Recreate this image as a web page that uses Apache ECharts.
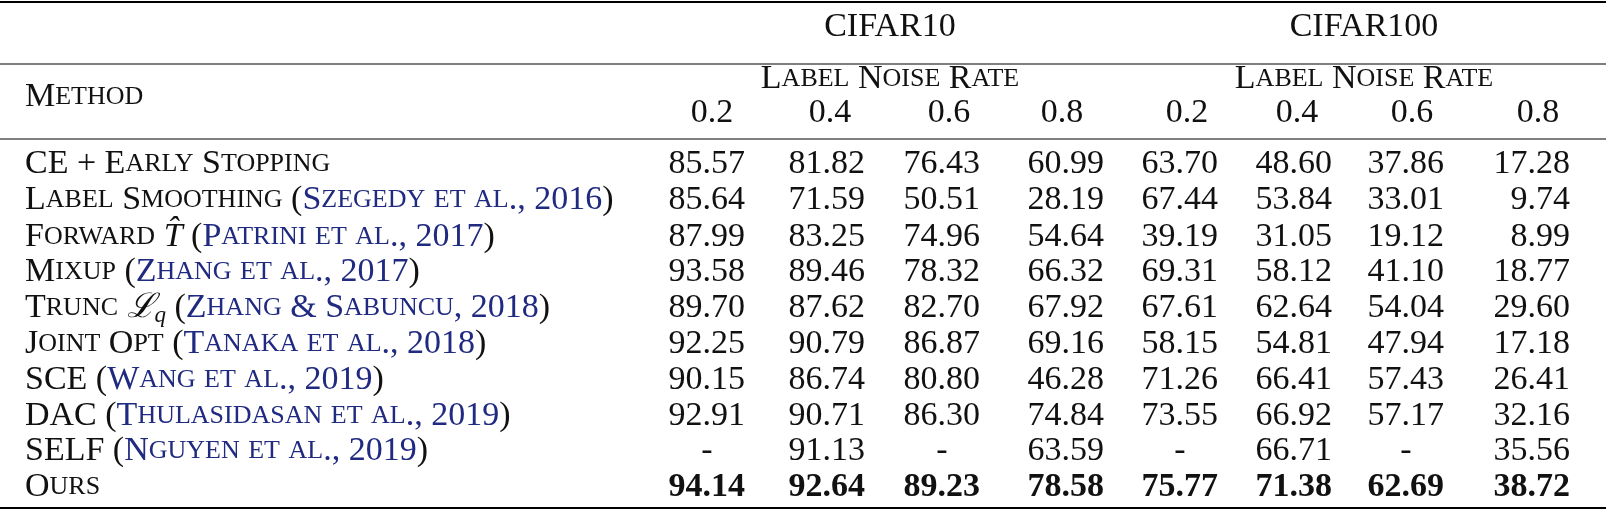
<!DOCTYPE html><html><head><meta charset="utf-8">
<script src="https://cdn.jsdelivr.net/npm/echarts@6/dist/echarts.min.js"></script>
<style>html,body{margin:0;background:#fff}#c{width:1606px;height:512px}</style></head><body><div id="c"></div>
<script>
const groups=["CIFAR10","CIFAR100"];
const noiseRates=["0.2","0.4","0.6","0.8","0.2","0.4","0.6","0.8"];
const methods=[
 [["CE + Early Stopping",0]],
 [["Label Smoothing (",0],["Szegedy et al., 2016",1],[")",0]],
 [["Forward ",0],["T̂",2],[" (",0],["Patrini et al., 2017",1],[")",0]],
 [["Mixup (",0],["Zhang et al., 2017",1],[")",0]],
 [["Trunc ",0],["ℒ",2],["q",3],[" (",0],["Zhang & Sabuncu, 2018",1],[")",0]],
 [["Joint Opt (",0],["Tanaka et al., 2018",1],[")",0]],
 [["SCE (",0],["Wang et al., 2019",1],[")",0]],
 [["DAC (",0],["Thulasidasan et al., 2019",1],[")",0]],
 [["SELF (",0],["Nguyen et al., 2019",1],[")",0]],
 [["Ours",0]]
];
const values=[
 ["85.57","81.82","76.43","60.99","63.70","48.60","37.86","17.28"],
 ["85.64","71.59","50.51","28.19","67.44","53.84","33.01","9.74"],
 ["87.99","83.25","74.96","54.64","39.19","31.05","19.12","8.99"],
 ["93.58","89.46","78.32","66.32","69.31","58.12","41.10","18.77"],
 ["89.70","87.62","82.70","67.92","67.61","62.64","54.04","29.60"],
 ["92.25","90.79","86.87","69.16","58.15","54.81","47.94","17.18"],
 ["90.15","86.74","80.80","46.28","71.26","66.41","57.43","26.41"],
 ["92.91","90.71","86.30","74.84","73.55","66.92","57.17","32.16"],
 ["-","91.13","-","63.59","-","66.71","-","35.56"],
 ["94.14","92.64","89.23","78.58","75.77","71.38","62.69","38.72"]
];
const boldRow=9;
const F='"Liberation Serif","DejaVu Serif",serif';
const BLUE='#1f2a80';
const BIG=34,SMALL=26;
const rich={
 b:{fontFamily:F,fontSize:BIG,fill:'#111'},s:{fontFamily:F,fontSize:SMALL,fill:'#111'},
 bb:{fontFamily:F,fontSize:BIG,fill:BLUE},sb:{fontFamily:F,fontSize:SMALL,fill:BLUE},
 it:{fontFamily:F,fontSize:BIG,fontStyle:'italic',fill:'#111'},
 sub:{fontFamily:F,fontSize:23,fontStyle:'italic',fill:'#111',padding:[16,0,0,0]}
};
function sc(str,blue){
 let out='',cur=null,buf='';
 const flush=()=>{if(buf){out+='{'+cur+(blue?'b':'')+'|'+buf+'}';}buf='';};
 for(const ch of str){
  const small=/[a-z]/.test(ch);const t=small?'s':'b';
  if(t!==cur){flush();cur=t;}
  buf+=small?ch.toUpperCase():ch;
 }
 flush();return out;
}
function build(parts){
 return parts.map(([t,k])=>k===0?sc(t,false):k===1?sc(t,true):k===2?'{it|'+t+'}':'{sub|'+t+'}').join('');
}
const colRight=[745,865,980,1104,1218,1332,1444,1570];
const headX=[712,830,949,1062,1187,1297,1412,1538];
const rowY=[164,200,237,272,308,344,380,416,451,487];
const g=[];
const line=(y,w)=>g.push({type:'line',shape:{x1:0,y1:y,x2:1606,y2:y},style:{stroke:'#000',lineWidth:w}});
line(2,2);line(64,1.2);line(139,1.2);line(508,2.2);
const tx=(x,y,t,al,bold)=>g.push({type:'text',x:x,y:y,style:{text:t,font:(bold?'bold ':'')+BIG+'px '+F,fill:'#111',align:al,verticalAlign:'middle'}});
groups.forEach((t,i)=>tx(i?1364:890,27,t,'center'));
[890,1364].forEach(x=>g.push({type:'text',x:x,y:79,style:{text:sc('Label Noise Rate'),rich:rich,align:'center',verticalAlign:'middle'}}));
g.push({type:'text',x:25,y:97,style:{text:sc('Method'),rich:rich,verticalAlign:'middle'}});
noiseRates.forEach((t,i)=>tx(headX[i],113,t,'center'));
methods.forEach((m,r)=>{
 g.push({type:'text',x:25,y:rowY[r],style:{text:build(m),rich:rich,verticalAlign:'middle'}});
 values[r].forEach((v,c)=>{
  if(v==='-') tx(colRight[c]-38,rowY[r],v,'center',false);
  else tx(colRight[c],rowY[r],v,'right',r===boldRow);
 });
});
const ch=echarts.init(document.getElementById('c'));
ch.setOption({animation:false,graphic:{elements:g}});
</script></body></html>
